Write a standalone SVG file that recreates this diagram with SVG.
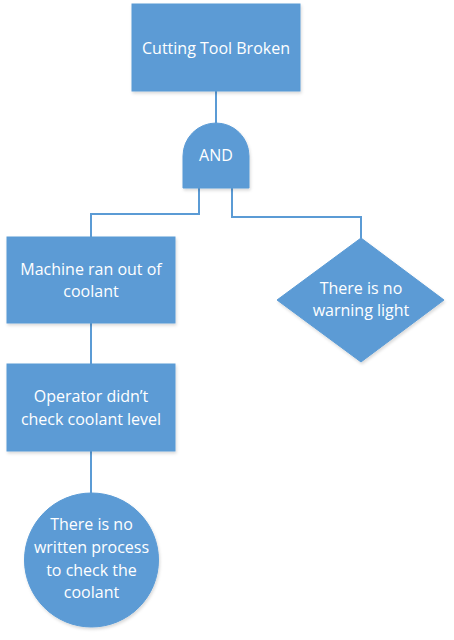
<svg xmlns="http://www.w3.org/2000/svg" width="454" height="640" viewBox="0 0 454 640">
<defs>
<filter id="sh" x="-10%" y="-10%" width="130%" height="130%">
<feDropShadow dx="1" dy="2" stdDeviation="1.5" flood-color="#000" flood-opacity="0.15"/>
</filter>
<style>
.n{fill:#5B9BD5;stroke:#5B9BD5;stroke-width:1;filter:url(#sh)}
.t{font-family:"Open Sans","Liberation Sans",sans-serif;font-size:16px;fill:#fff;text-anchor:middle}
.c{fill:none;stroke:#5B9BD5;stroke-width:2}
</style>
</defs>
<rect width="454" height="640" fill="#fff"/>
<g id="connectors">
<path class="c" d="M216 91V123"/>
<path class="c" d="M199 188V214H91V237"/>
<path class="c" d="M232 188V217H361V238"/>
<path class="c" d="M91 323V364"/>
<path class="c" d="M91 451V493"/>
</g>
<g id="top">
<rect class="n" x="132" y="4" width="168" height="87"/>
<text class="t" x="216" y="54">Cutting Tool Broken</text>
</g>
<g id="and">
<path class="n" d="M183 188V156A33 33 0 0 1 249 156V188Z"/>
<text class="t" x="216" y="161">AND</text>
</g>
<g id="machine">
<rect class="n" x="7" y="237" width="168" height="86"/>
<text class="t" x="91" y="275">Machine ran out of</text>
<text class="t" x="91" y="297">coolant</text>
</g>
<g id="warning">
<path class="n" d="M361 238L444 300L361 362L277 300Z"/>
<text class="t" x="361" y="294">There is no</text>
<text class="t" x="361" y="316">warning light</text>
</g>
<g id="operator">
<rect class="n" x="7" y="364" width="168" height="87"/>
<text class="t" x="91" y="402">Operator didn’t</text>
<text class="t" x="91" y="425">check coolant level</text>
</g>
<g id="process">
<circle class="n" cx="91.5" cy="560" r="67"/>
<text class="t" x="91.5" y="530">There is no</text>
<text class="t" x="91.5" y="553">written process</text>
<text class="t" x="91.5" y="576">to check the</text>
<text class="t" x="91.5" y="598">coolant</text>
</g>
</svg>
